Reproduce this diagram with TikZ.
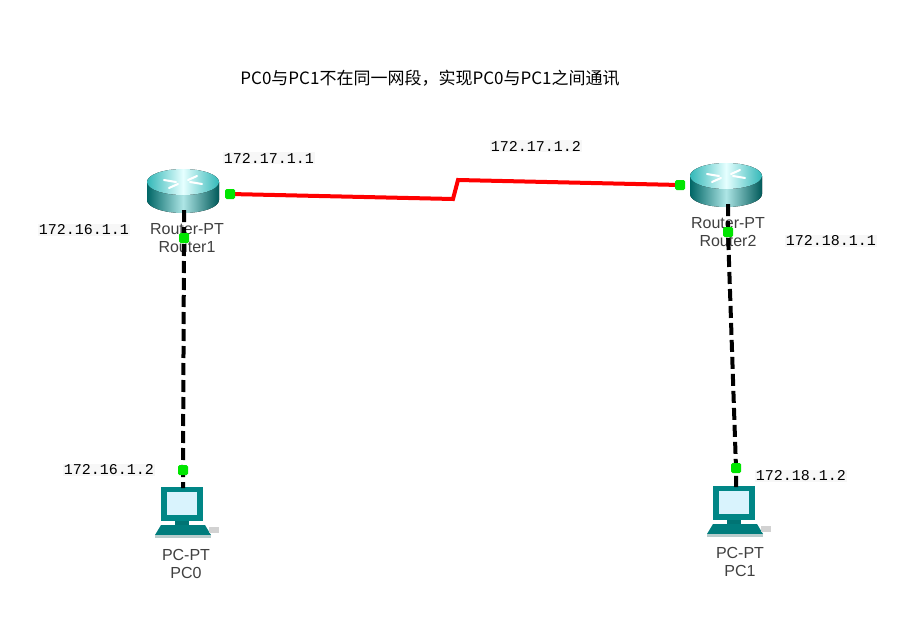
\documentclass[tikz,border=0pt]{standalone}
\usepackage{fontspec}
\newfontfamily\cjk{Noto Sans CJK SC}
\newfontfamily\mono{Liberation Mono}
\setmainfont{Liberation Sans}
\begin{document}
\begin{tikzpicture}[x=1pt,y=-1pt,
  ip/.style={font=\mono\fontsize{15}{17}\selectfont, fill=gray!6, inner sep=1pt},
  dev/.style={font=\fontsize{16}{18.5}\selectfont, text=black!75, align=center},
  dot/.style={fill=green!90!black, minimum size=10pt, inner sep=0pt, draw=none, rectangle, rounded corners=1.5pt},
  eth/.style={line width=4pt, dash pattern=on 12pt off 5pt},
  ser/.style={red, line width=4pt}]
\useasboundingbox (0,0) rectangle (922,642);
\fill[white] (0,0) rectangle (922,642);
\node[font=\cjk\fontsize{17}{19}\selectfont] (title) at (430,78) {PC0与PC1不在同一网段，实现PC0与PC1之间通讯};
\tikzset{router/.pic={
  \fill[left color=teal!80!black, right color=teal!70!black, middle color=cyan!15!white!80!teal] (-36,-8) -- (-36,10) arc[start angle=180,end angle=0,x radius=36,y radius=13] -- (36,-8) -- cycle;
  \fill[left color=cyan!30!teal!80!white, right color=cyan!30!teal!80!white, middle color=cyan!10!white] (0,-8) ellipse[x radius=36,y radius=13];
  \draw[white, line width=2pt, line cap=round] (-19,-10) -- (-7,-8) (19,-6) -- (7,-8) (-14,-2) -- (-5,-6) (14,-14) -- (5,-10);
},
pc/.pic={
  \fill[teal!60!cyan!75!black] (-22,-28) rectangle (20,6);
  \fill[cyan!15!white] (-16,-23) rectangle (14,0);
  \fill[teal!60!cyan!65!black] (-8,6) rectangle (6,10);
  \fill[teal!60!cyan!70!black] (-22,10) -- (22,10) -- (28,20) -- (-28,20) -- cycle;
  \fill[teal!40!gray!40] (-28,20) rectangle (28,23);
  \fill[gray!35] (26,12) rectangle (36,18);
}}
\pic at (183,190) {router};
\pic at (726,184) {router};
\pic at (183,515) {pc};
\pic at (735,514) {pc};
\node[dev] (r1) at (187,238) {Router-PT\\Router1};
\node[dev] (r2) at (728,232) {Router-PT\\Router2};
\node[dev] (p0) at (186,564) {PC-PT\\PC0};
\node[dev] (p1) at (740,562) {PC-PT\\PC1};
\coordinate (a1) at (230,194);
\coordinate (a2) at (680,185);
\coordinate (b1) at (184,238);
\coordinate (b2) at (183,470);
\coordinate (c1) at (728,232);
\coordinate (c2) at (736,468);
\draw[ser] (a1) -- (453,199) -- (458,180) -- (a2);
\draw[eth] (184,210) -- (b1) -- (b2) -- (183,488);
\draw[eth] (728,204) -- (c1) -- (c2) -- (736,487);
\foreach \p in {a1,a2,b1,b2,c1,c2} \node[dot] at (\p) {};
\node[ip] (l1) at (269,158) {172.17.1.1};
\node[ip] (l2) at (536,146) {172.17.1.2};
\node[ip] (l3) at (84,230) {172.16.1.1};
\node[ip] (l4) at (831,241) {172.18.1.1};
\node[ip] (l5) at (109,470) {172.16.1.2};
\node[ip] (l6) at (801,476) {172.18.1.2};
\end{tikzpicture}
\end{document}
